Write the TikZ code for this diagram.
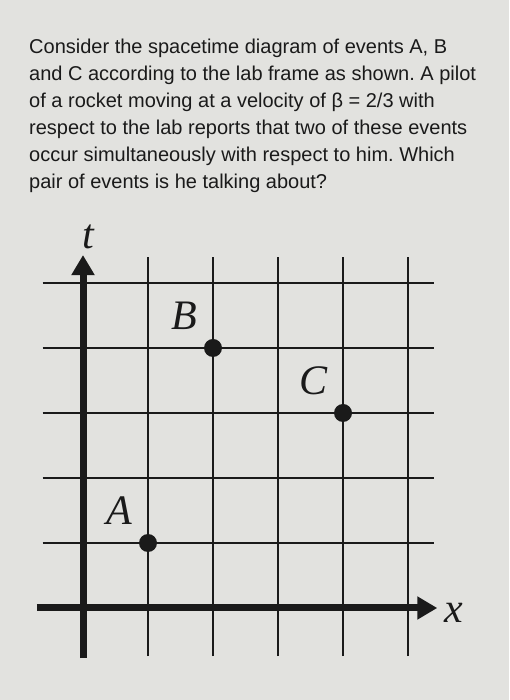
\documentclass[tikz,border=0pt]{standalone}
\usepackage{fontspec}
\setmainfont{Liberation Sans}
\newfontfamily\labelfont{Liberation Serif}
\usetikzlibrary{arrows.meta,positioning}
\frenchspacing

\definecolor{paper}{RGB}{226,226,223}
\definecolor{ink}{RGB}{26,26,26}

\tikzset{
	gridline/.style={ink, line width=2.6pt},
	axis/.style={ink, line width=7pt, -{Triangle[length=20pt,width=22pt]}},
	event/.style={circle, fill=ink, inner sep=0pt, minimum size=18pt},
	evlabel/.style={inner sep=0pt, text=ink, font=\labelfont\itshape\fontsize{42}{42}\selectfont},
	qtext/.style={anchor=base west, inner sep=0pt, text=ink, font=\fontsize{20}{27}\selectfont}
}

\begin{document}
\begin{tikzpicture}[x=65pt, y=65pt]
	\useasboundingbox[fill=paper] (-83pt,-92pt) rectangle (426pt,608pt);
	
	% question text
	\foreach \ln [count=\k] in {{Consider the spacetime diagram of events A, B},
		{and C according to the lab frame as shown. A pilot},
		{of a rocket moving at a velocity of β = 2/3 with},
		{respect to the lab reports that two of these events},
		{occur simultaneously with respect to him. Which},
		{pair of events is he talking about?}}
		\node[qtext, yshift=-27pt*\k] (q\k) at (-54pt,581pt) {\ln};
	
	% grid
	\foreach \i in {1,...,5} {
		\draw[gridline] (\i,-0.74) -- (\i,5.4);
		\draw[gridline] (-0.62,\i) -- (5.4,\i);
	}
	
	% axes
	\coordinate (tfoot) at (0,-0.77);
	\coordinate (ttip) at (0,5.43);
	\coordinate (xfoot) at (-0.71,0);
	\coordinate (xtip) at (5.45,0);
	\draw[axis] (tfoot) -- (ttip);
	\draw[axis] (xfoot) -- (xtip);
	\node[evlabel, above=6pt of ttip, xshift=5pt] (tlab) {t};
	\node[evlabel, right=7pt of xtip, yshift=-5pt] (xlab) {x};
	
	% events
	\node[event] (A) at (1,1) {};
	\node[event] (B) at (2,4) {};
	\node[event] (C) at (4,3) {};
	\node[evlabel, xshift=-29pt, yshift=32pt] (Alab) at (A) {A};
	\node[evlabel, xshift=-29pt, yshift=32pt] (Blab) at (B) {B};
	\node[evlabel, xshift=-29pt, yshift=32pt] (Clab) at (C) {C};
\end{tikzpicture}
\end{document}
